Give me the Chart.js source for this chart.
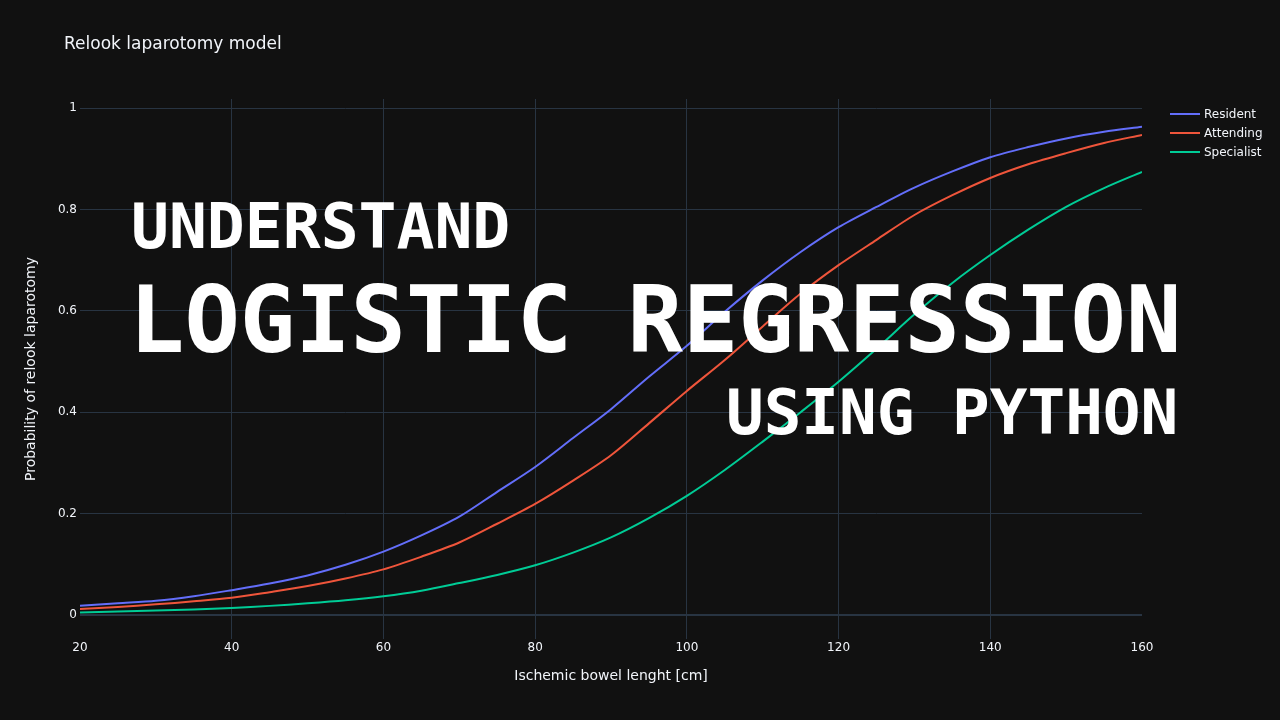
<!DOCTYPE html>
<html>
<head>
<meta charset="utf-8">
<title>Relook laparotomy model</title>
<script src="https://cdn.jsdelivr.net/npm/chart.js@4"></script>
<style>
  html, body { margin: 0; padding: 0; background: #111111; }
  #wrap { position: relative; width: 1280px; height: 720px; }
  .big {
    position: absolute;
    font-family: "DejaVu Sans Mono", monospace;
    font-weight: bold;
    color: #ffffff;
    line-height: 1;
    white-space: pre;
  }
</style>
</head>
<body>
<div id="wrap">
  <canvas id="relookChart" width="1280" height="720"></canvas>
  <div class="big" style="left:131px; top:195px; font-size:63px;">UNDERSTAND</div>
  <div class="big" style="left:129px; top:275px; font-size:92px;">LOGISTIC REGRESSION</div>
  <div class="big" style="left:726px; top:382px; font-size:62.6px;">USING PYTHON</div>
</div>
<script>
// ischemic bowel length [cm]
var lengths = [20, 25, 30, 35, 40, 45, 50, 55, 60, 65, 70, 75, 80, 85, 90,
  95, 100, 105, 110, 115, 120, 125, 130, 135, 140, 145, 150, 155, 160];

var resident = [0.018, 0.023, 0.028, 0.037, 0.049, 0.062, 0.078, 0.099, 0.125, 0.157,
  0.194, 0.243, 0.292, 0.349, 0.406, 0.470, 0.531, 0.598, 0.660, 0.716, 0.765, 0.805,
  0.843, 0.875, 0.903, 0.923, 0.940, 0.953, 0.963];
var attending = [0.012, 0.016, 0.021, 0.027, 0.034, 0.045, 0.057, 0.072, 0.090, 0.115,
  0.143, 0.180, 0.219, 0.265, 0.315, 0.378, 0.442, 0.503, 0.569, 0.634, 0.690, 0.740,
  0.789, 0.828, 0.862, 0.889, 0.911, 0.931, 0.947];
var specialist = [0.005, 0.007, 0.009, 0.011, 0.014, 0.018, 0.023, 0.029, 0.037, 0.048,
  0.063, 0.079, 0.098, 0.123, 0.153, 0.191, 0.235, 0.286, 0.342, 0.400, 0.460, 0.525,
  0.593, 0.655, 0.710, 0.760, 0.805, 0.842, 0.874];

var seriesNames = ["Resident", "Attending", "Specialist"];
var seriesColors = ["#636efa", "#EF553B", "#00cc96"];

var xTicks = [20, 40, 60, 80, 100, 120, 140, 160];
var yTicks = [0, 0.2, 0.4, 0.6, 0.8, 1];

var textColor = "#f2f5fa";
var gridColor = "#283442";
var baseFont = '"DejaVu Sans", Verdana, sans-serif';

function toPoints(values) {
  return lengths.map(function (x, i) {
    return { x: x, y: values[i] };
  });
}

// title + legend drawn on top of the chart
var decorations = {
  id: "decorations",
  afterDraw: function (chart) {
    var ctx = chart.ctx;
    ctx.save();
    ctx.fillStyle = textColor;
    ctx.font = "17px " + baseFont;
    ctx.textBaseline = "middle";
    ctx.textAlign = "left";
    ctx.fillText("Relook laparotomy model", 64, 45);

    ctx.font = "12px " + baseFont;
    chart.data.datasets.forEach(function (ds, i) {
      var y = 114 + i * 19;
      ctx.strokeStyle = ds.borderColor;
      ctx.lineWidth = 2;
      ctx.beginPath();
      ctx.moveTo(1170, y);
      ctx.lineTo(1200, y);
      ctx.stroke();
      ctx.fillStyle = textColor;
      ctx.fillText(ds.label, 1204, y + 1);
    });
    ctx.restore();
  },
};

var ctx = document.getElementById("relookChart").getContext("2d");
var relookChart = new Chart(ctx, {
  type: "line",
  data: {
    datasets: [resident, attending, specialist].map(function (vals, i) {
      return {
        label: seriesNames[i],
        data: toPoints(vals),
        borderColor: seriesColors[i],
        backgroundColor: seriesColors[i],
        borderWidth: 2,
        pointRadius: 0,
        tension: 0.3,
        fill: false,
      };
    }),
  },
  options: {
    responsive: false,
    animation: false,
    layout: { padding: { top: 99, right: 138, left: 0, bottom: 0 } },
    plugins: {
      legend: { display: false },
      title: { display: false },
      tooltip: { enabled: false },
    },
    scales: {
      x: {
        type: "linear",
        min: 20,
        max: 160,
        afterFit: function (scale) {
          scale.height = 81;
        },
        afterBuildTicks: function (scale) {
          scale.ticks = xTicks.map(function (v) {
            return { value: v };
          });
        },
        border: { display: false },
        grid: {
          drawTicks: false,
          color: function (c) {
            var v = c.tick ? c.tick.value : null;
            return v === 20 || v === 160 ? "rgba(0,0,0,0)" : gridColor;
          },
        },
        ticks: {
          color: textColor,
          font: { family: baseFont, size: 12 },
          padding: 2,
          maxRotation: 0,
        },
        title: {
          display: true,
          text: "Ischemic bowel lenght [cm]",
          color: textColor,
          font: { family: baseFont, size: 14 },
          padding: { top: 0, bottom: 35.6 },
        },
      },
      y: {
        min: -0.04734,
        max: 1.0178,
        afterFit: function (scale) {
          scale.width = 80;
        },
        afterBuildTicks: function (scale) {
          scale.ticks = yTicks.map(function (v) {
            return { value: v };
          });
        },
        border: { display: false },
        grid: {
          drawTicks: false,
          color: gridColor,
          lineWidth: function (c) {
            return c.tick && c.tick.value === 0 ? 2 : 1;
          },
        },
        ticks: {
          color: textColor,
          font: { family: baseFont, size: 12 },
          padding: 3,
          callback: function (v) {
            return String(Math.round(v * 10) / 10);
          },
        },
        title: {
          display: true,
          text: "Probability of relook laparotomy",
          color: textColor,
          font: { family: baseFont, size: 14 },
          padding: { top: 22.6, bottom: 0 },
        },
      },
    },
  },
  plugins: [decorations],
});
</script>
</body>
</html>
